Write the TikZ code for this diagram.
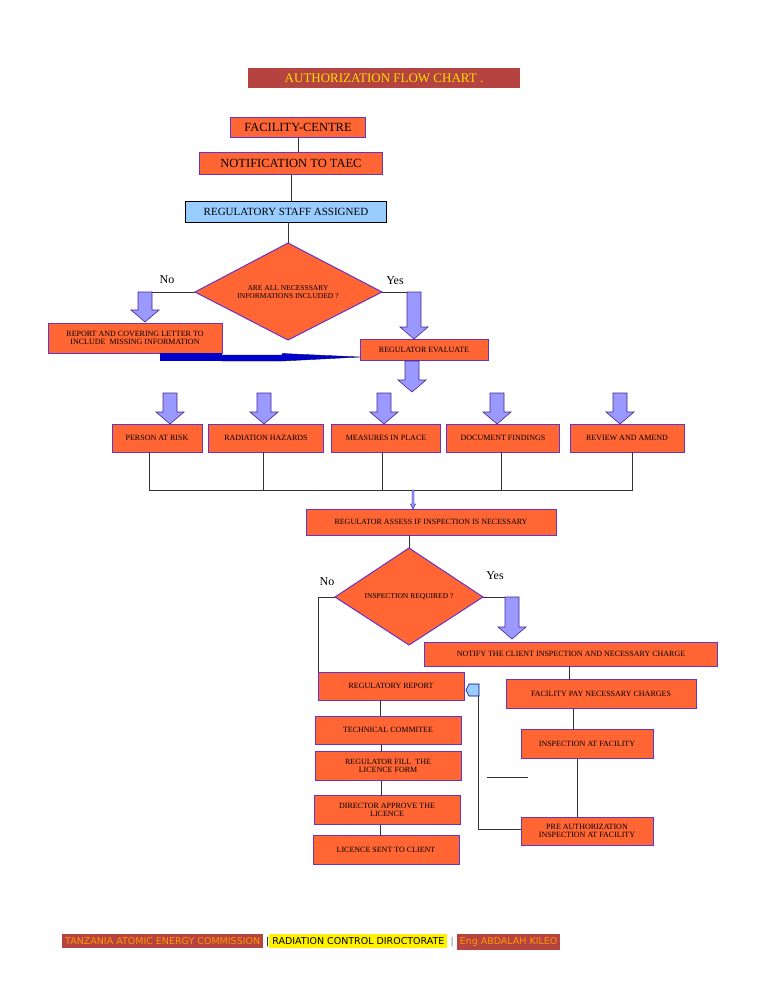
\documentclass[tikz,border=0pt]{standalone}
\usepackage{fontspec}
\setmainfont{Liberation Serif}
\newfontfamily\footfont{DejaVu Sans}
\definecolor{org}{HTML}{FF6633}
\definecolor{pur}{HTML}{6633CC}
\definecolor{lblue}{HTML}{99CCFF}
\definecolor{barf}{HTML}{9999FF}
\definecolor{brn}{HTML}{B5433F}
\definecolor{ttl}{HTML}{FFE000}
\tikzset{
 bx/.style={draw=pur,fill=org,line width=1pt,inner sep=1pt,align=center,font=\fontsize{8}{8.5}\selectfont},
 dia/.style={draw=pur,fill=org,line width=1pt},
 ln/.style={draw=black!80,line width=0.8pt},
 barrow/.style={draw=pur!70!black,fill=barf,line width=0.6pt},
 lab/.style={font=\fontsize{12}{12}\selectfont},
}
\newcommand\barr[3]{\draw[barrow] ({#1-7},#2) -- ({#1+7},#2) -- ({#1+7},{#3-12}) -- ({#1+14},{#3-12}) -- (#1,#3) -- ({#1-14},{#3-12}) -- ({#1-7},{#3-12}) -- cycle;}
\newcommand\bxn[6]{\node[bx,minimum width=#4,minimum height=#5] (#1) at (#2,#3) {#6};}
\begin{document}
\begin{tikzpicture}[x=1pt,y=-1pt]
\useasboundingbox (0,0) rectangle (768,994);
\node[fill=brn,text=ttl,inner sep=1pt,minimum width=272,minimum height=20,font=\fontsize{13}{13}\selectfont] (title) at (384,78) {AUTHORIZATION FLOW CHART .};
\node[bx,minimum width=135,minimum height=20,font=\fontsize{12.5}{13}\selectfont] (fac) at (298,127) {FACILITY-CENTRE};
\node[bx,minimum width=183,minimum height=22,font=\fontsize{12.5}{13}\selectfont] (notif) at (291,163) {NOTIFICATION TO TAEC};
\node[bx,fill=lblue,draw=black,minimum width=201,minimum height=21,font=\fontsize{11}{12}\selectfont] (staff) at (286,212) {REGULATORY STAFF ASSIGNED};
\draw[dia] (288,243) coordinate (d1t) -- (382,292) coordinate (d1r) -- (288,340) -- (195,292) coordinate (d1l) -- cycle;
\node[font=\fontsize{7.5}{8}\selectfont,align=center] (d1) at (288,292) {ARE ALL NECESSSARY\\INFORMATIONS INCLUDED ?};
\draw[ln] (fac.south) -- (fac.south|-notif.north);
\draw[ln] (notif.south) -- (notif.south|-staff.north);
\draw[ln] (288,222) -- (d1t);
\node[lab] (no1) at (167,280) {No};
\node[lab] (yes1) at (395,281) {Yes};
\bxn{rep}{135}{338}{174}{30}{REPORT AND COVERING LETTER TO\\INCLUDE\ \ MISSING INFORMATION}
\bxn{eval}{424}{350}{128}{21}{REGULATOR EVALUATE}
\draw[ln] (d1l) -- (145,292);
\barr{145}{292}{322}
\draw[ln] (d1r) -- (420,292);
\barr{414}{292}{339}
\fill[blue!80!black] (160,353) rectangle (222,361);
\draw[draw=blue!40!black,fill=blue!80!black] (222,355) -- (282,355) -- (282,353.5) -- (360,357) -- (282,361) -- (222,361) -- cycle;
\barr{412}{361}{392}
\bxn{p1}{157}{438}{90}{28}{PERSON AT RISK}
\bxn{p2}{266}{438}{115}{28}{RADIATION HAZARDS}
\bxn{p3}{386}{438}{109}{28}{MEASURES IN PLACE}
\bxn{p4}{503}{438}{113}{28}{DOCUMENT FINDINGS}
\bxn{p5}{627}{438}{114}{28}{REVIEW AND AMEND}
\barr{170}{393}{424}
\barr{264}{393}{424}
\barr{384}{393}{424}
\barr{497}{393}{424}
\barr{620}{393}{424}
\draw[ln] (149,452) -- (149,490) -- (632,490) -- (632,452);
\draw[ln] (263,452) -- (263,490);
\draw[ln] (382,452) -- (382,490);
\draw[ln] (501,452) -- (501,490);
\draw[draw=blue!60!black,fill=barf,line width=0.4pt] (412,490) -- (414,490) -- (414,504) -- (415.5,504) -- (413,509) -- (410.5,504) -- (412,504) -- cycle;
\bxn{assess}{431}{522}{250}{26}{REGULATOR ASSESS IF INSPECTION IS NECESSARY}
\draw[dia] (409,548) coordinate (d2t) -- (483,597) coordinate (d2r) -- (409,645) -- (335,597) coordinate (d2l) -- cycle;
\node[font=\fontsize{7.5}{8}\selectfont] (d2) at (409,597) {INSPECTION REQUIRED ?};
\draw[ln] (409,535) -- (d2t);
\node[lab] (no2) at (327,582) {No};
\node[lab] (yes2) at (495,576) {Yes};
\bxn{notify}{571}{654}{293}{24}{NOTIFY THE CLIENT INSPECTION AND NECESSARY CHARGE}
\bxn{rr}{391}{686}{146}{28}{REGULATORY REPORT}
\bxn{pay}{601}{694}{190}{29}{FACILITY PAY NECESSARY CHARGES}
\bxn{insp}{587}{744}{132}{29}{INSPECTION AT FACILITY}
\bxn{pre}{587}{831}{132}{28}{PRE AUTHORIZATION\\INSPECTION AT FACILITY}
\bxn{tech}{388}{730}{146}{28}{TECHNICAL COMMITEE}
\bxn{fill}{388}{766}{146}{29}{REGULATOR FILL\ \ THE\\LICENCE FORM}
\bxn{dir}{387}{810}{146}{29}{DIRECTOR APPROVE THE\\LICENCE}
\bxn{sent}{386}{850}{146}{29}{LICENCE SENT TO CLIENT}
\draw[ln] (d2l) -- (318,597) -- (318,672);
\draw[ln] (d2r) -- (517,597);
\barr{512}{597}{639}
\draw[ln] (569,666) -- (569,680);
\draw[ln] (573,709) -- (573,730);
\draw[ln] (577,759) -- (577,817);
\draw[ln] (521,829) -- (478,829) -- (478,696);
\draw[draw=blue!50!black,fill=lblue,line width=0.6pt] (466,690) -- (469,684) -- (479,684) -- (479,696) -- (469,696) -- cycle;
\draw[ln] (487,777) -- (528,777);
\draw[ln] (380,700) -- (380,716);
\draw[ln] (381,744) -- (381,752);
\draw[ln] (381,781) -- (381,796);
\draw[ln] (380,825) -- (380,836);
\node[anchor=west,inner sep=0pt,font=\footfont\fontsize{9.5}{10}\selectfont] (foot) at (62,942) {\colorbox{brn}{\color{orange!80!yellow}TANZANIA ATOMIC ENERGY COMMISSION} |\colorbox{yellow}{RADIATION CONTROL DIROCTORATE} {\color{gray}|} \colorbox{brn}{\color{orange!80!yellow}Eng ABDALAH KILEO}};
\end{tikzpicture}
\end{document}
